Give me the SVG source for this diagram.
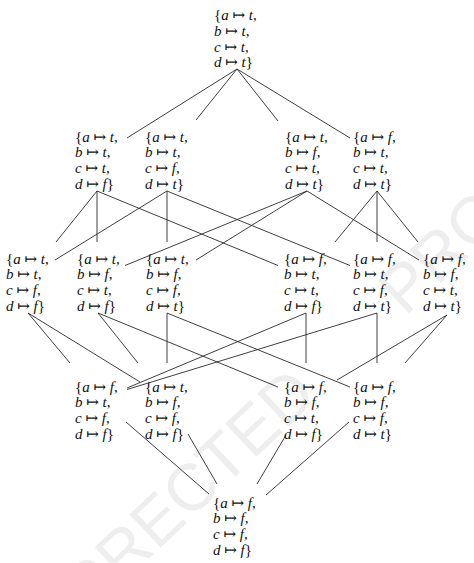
<svg xmlns="http://www.w3.org/2000/svg" width="474" height="563" viewBox="0 0 474 563">
<style>
text{font-family:"Liberation Serif","DejaVu Serif",serif;font-size:15px;fill:#111}
.v{font-style:italic}
.c line{stroke:#2a2a2a;stroke-width:0.9;fill:none}
.wm{font-family:"Liberation Sans","DejaVu Sans",sans-serif;font-size:66px;fill:#eeeeee}
</style>
<rect width="474" height="563" fill="#fff"/>
<g id="watermark">
<g transform="translate(122,584) rotate(-43.4)">
<text class="wm" text-anchor="end">UNCOR</text>
<text class="wm">RECTED</text>
</g>
<text class="wm" transform="translate(405,317) rotate(-43.4)">PROOF</text>
</g>
<g id="connectors" class="c">
<line x1="237" y1="69" x2="127" y2="138"/>
<line x1="237" y1="69" x2="196" y2="120"/>
<line x1="237" y1="69" x2="278" y2="121"/>
<line x1="237" y1="69" x2="350" y2="138"/>
<line x1="97" y1="191" x2="56" y2="242"/>
<line x1="97" y1="191" x2="97" y2="242"/>
<line x1="97" y1="191" x2="278" y2="265.5"/>
<line x1="167" y1="191" x2="55" y2="260"/>
<line x1="167" y1="191" x2="167" y2="242"/>
<line x1="167" y1="191" x2="350" y2="265.5"/>
<line x1="307" y1="191" x2="125" y2="265.5"/>
<line x1="307" y1="191" x2="196" y2="260"/>
<line x1="307" y1="191" x2="419" y2="260"/>
<line x1="377" y1="191" x2="335" y2="242"/>
<line x1="377" y1="191" x2="377" y2="242"/>
<line x1="377" y1="191" x2="418" y2="242"/>
<line x1="28" y1="313" x2="70" y2="363"/>
<line x1="28" y1="313" x2="140" y2="382"/>
<line x1="98" y1="313" x2="138" y2="363"/>
<line x1="98" y1="313" x2="278" y2="387"/>
<line x1="167" y1="313" x2="167" y2="363"/>
<line x1="167" y1="313" x2="350" y2="387"/>
<line x1="306" y1="313" x2="127" y2="388"/>
<line x1="306" y1="313" x2="306" y2="363"/>
<line x1="377" y1="313" x2="127" y2="389.5"/>
<line x1="377" y1="313" x2="377" y2="363"/>
<line x1="447" y1="315" x2="405" y2="363"/>
<line x1="447" y1="315" x2="337" y2="380"/>
<line x1="126" y1="422" x2="209" y2="494"/>
<line x1="188" y1="434" x2="217" y2="484"/>
<line x1="286" y1="435" x2="257" y2="484"/>
<line x1="349" y1="422" x2="266" y2="495"/>
</g>
<g id="n_tttt"><text><tspan x="214" y="20">{<tspan class="v">a</tspan> ↦ <tspan class="v">t</tspan>,</tspan><tspan x="214" y="35.8"><tspan class="v">b</tspan> ↦ <tspan class="v">t</tspan>,</tspan><tspan x="214" y="51.6"><tspan class="v">c</tspan> ↦ <tspan class="v">t</tspan>,</tspan><tspan x="214" y="67.4"><tspan class="v">d</tspan> ↦ <tspan class="v">t</tspan>}</tspan></text></g>
<g id="n_tttf"><text><tspan x="75" y="141.5">{<tspan class="v">a</tspan> ↦ <tspan class="v">t</tspan>,</tspan><tspan x="75" y="157.3"><tspan class="v">b</tspan> ↦ <tspan class="v">t</tspan>,</tspan><tspan x="75" y="173.1"><tspan class="v">c</tspan> ↦ <tspan class="v">t</tspan>,</tspan><tspan x="75" y="188.9"><tspan class="v">d</tspan> ↦ <tspan class="v">f</tspan>}</tspan></text></g>
<g id="n_ttft"><text><tspan x="145" y="141.5">{<tspan class="v">a</tspan> ↦ <tspan class="v">t</tspan>,</tspan><tspan x="145" y="157.3"><tspan class="v">b</tspan> ↦ <tspan class="v">t</tspan>,</tspan><tspan x="145" y="173.1"><tspan class="v">c</tspan> ↦ <tspan class="v">f</tspan>,</tspan><tspan x="145" y="188.9"><tspan class="v">d</tspan> ↦ <tspan class="v">t</tspan>}</tspan></text></g>
<g id="n_tftt"><text><tspan x="285" y="141.5">{<tspan class="v">a</tspan> ↦ <tspan class="v">t</tspan>,</tspan><tspan x="285" y="157.3"><tspan class="v">b</tspan> ↦ <tspan class="v">f</tspan>,</tspan><tspan x="285" y="173.1"><tspan class="v">c</tspan> ↦ <tspan class="v">t</tspan>,</tspan><tspan x="285" y="188.9"><tspan class="v">d</tspan> ↦ <tspan class="v">t</tspan>}</tspan></text></g>
<g id="n_fttt"><text><tspan x="353" y="141.5">{<tspan class="v">a</tspan> ↦ <tspan class="v">f</tspan>,</tspan><tspan x="353" y="157.3"><tspan class="v">b</tspan> ↦ <tspan class="v">t</tspan>,</tspan><tspan x="353" y="173.1"><tspan class="v">c</tspan> ↦ <tspan class="v">t</tspan>,</tspan><tspan x="353" y="188.9"><tspan class="v">d</tspan> ↦ <tspan class="v">t</tspan>}</tspan></text></g>
<g id="n_ttff"><text><tspan x="6" y="263.5">{<tspan class="v">a</tspan> ↦ <tspan class="v">t</tspan>,</tspan><tspan x="6" y="279.3"><tspan class="v">b</tspan> ↦ <tspan class="v">t</tspan>,</tspan><tspan x="6" y="295.1"><tspan class="v">c</tspan> ↦ <tspan class="v">f</tspan>,</tspan><tspan x="6" y="310.9"><tspan class="v">d</tspan> ↦ <tspan class="v">f</tspan>}</tspan></text></g>
<g id="n_tftf"><text><tspan x="77" y="263.5">{<tspan class="v">a</tspan> ↦ <tspan class="v">t</tspan>,</tspan><tspan x="77" y="279.3"><tspan class="v">b</tspan> ↦ <tspan class="v">f</tspan>,</tspan><tspan x="77" y="295.1"><tspan class="v">c</tspan> ↦ <tspan class="v">t</tspan>,</tspan><tspan x="77" y="310.9"><tspan class="v">d</tspan> ↦ <tspan class="v">f</tspan>}</tspan></text></g>
<g id="n_tfft"><text><tspan x="146" y="263.5">{<tspan class="v">a</tspan> ↦ <tspan class="v">t</tspan>,</tspan><tspan x="146" y="279.3"><tspan class="v">b</tspan> ↦ <tspan class="v">f</tspan>,</tspan><tspan x="146" y="295.1"><tspan class="v">c</tspan> ↦ <tspan class="v">f</tspan>,</tspan><tspan x="146" y="310.9"><tspan class="v">d</tspan> ↦ <tspan class="v">t</tspan>}</tspan></text></g>
<g id="n_fttf"><text><tspan x="284" y="263.5">{<tspan class="v">a</tspan> ↦ <tspan class="v">f</tspan>,</tspan><tspan x="284" y="279.3"><tspan class="v">b</tspan> ↦ <tspan class="v">t</tspan>,</tspan><tspan x="284" y="295.1"><tspan class="v">c</tspan> ↦ <tspan class="v">t</tspan>,</tspan><tspan x="284" y="310.9"><tspan class="v">d</tspan> ↦ <tspan class="v">f</tspan>}</tspan></text></g>
<g id="n_ftft"><text><tspan x="353" y="263.5">{<tspan class="v">a</tspan> ↦ <tspan class="v">f</tspan>,</tspan><tspan x="353" y="279.3"><tspan class="v">b</tspan> ↦ <tspan class="v">t</tspan>,</tspan><tspan x="353" y="295.1"><tspan class="v">c</tspan> ↦ <tspan class="v">f</tspan>,</tspan><tspan x="353" y="310.9"><tspan class="v">d</tspan> ↦ <tspan class="v">t</tspan>}</tspan></text></g>
<g id="n_fftt"><text><tspan x="423" y="263.5">{<tspan class="v">a</tspan> ↦ <tspan class="v">f</tspan>,</tspan><tspan x="423" y="279.3"><tspan class="v">b</tspan> ↦ <tspan class="v">f</tspan>,</tspan><tspan x="423" y="295.1"><tspan class="v">c</tspan> ↦ <tspan class="v">t</tspan>,</tspan><tspan x="423" y="310.9"><tspan class="v">d</tspan> ↦ <tspan class="v">t</tspan>}</tspan></text></g>
<g id="n_ftff"><text><tspan x="75" y="391.5">{<tspan class="v">a</tspan> ↦ <tspan class="v">f</tspan>,</tspan><tspan x="75" y="407.3"><tspan class="v">b</tspan> ↦ <tspan class="v">t</tspan>,</tspan><tspan x="75" y="423.1"><tspan class="v">c</tspan> ↦ <tspan class="v">f</tspan>,</tspan><tspan x="75" y="438.9"><tspan class="v">d</tspan> ↦ <tspan class="v">f</tspan>}</tspan></text></g>
<g id="n_tfff"><text><tspan x="145" y="391.5">{<tspan class="v">a</tspan> ↦ <tspan class="v">t</tspan>,</tspan><tspan x="145" y="407.3"><tspan class="v">b</tspan> ↦ <tspan class="v">f</tspan>,</tspan><tspan x="145" y="423.1"><tspan class="v">c</tspan> ↦ <tspan class="v">f</tspan>,</tspan><tspan x="145" y="438.9"><tspan class="v">d</tspan> ↦ <tspan class="v">f</tspan>}</tspan></text></g>
<g id="n_fftf"><text><tspan x="284" y="391.5">{<tspan class="v">a</tspan> ↦ <tspan class="v">f</tspan>,</tspan><tspan x="284" y="407.3"><tspan class="v">b</tspan> ↦ <tspan class="v">f</tspan>,</tspan><tspan x="284" y="423.1"><tspan class="v">c</tspan> ↦ <tspan class="v">t</tspan>,</tspan><tspan x="284" y="438.9"><tspan class="v">d</tspan> ↦ <tspan class="v">f</tspan>}</tspan></text></g>
<g id="n_ffft"><text><tspan x="353" y="391.5">{<tspan class="v">a</tspan> ↦ <tspan class="v">f</tspan>,</tspan><tspan x="353" y="407.3"><tspan class="v">b</tspan> ↦ <tspan class="v">f</tspan>,</tspan><tspan x="353" y="423.1"><tspan class="v">c</tspan> ↦ <tspan class="v">f</tspan>,</tspan><tspan x="353" y="438.9"><tspan class="v">d</tspan> ↦ <tspan class="v">t</tspan>}</tspan></text></g>
<g id="n_ffff"><text><tspan x="213" y="507.5">{<tspan class="v">a</tspan> ↦ <tspan class="v">f</tspan>,</tspan><tspan x="213" y="523.3"><tspan class="v">b</tspan> ↦ <tspan class="v">f</tspan>,</tspan><tspan x="213" y="539.1"><tspan class="v">c</tspan> ↦ <tspan class="v">f</tspan>,</tspan><tspan x="213" y="554.9"><tspan class="v">d</tspan> ↦ <tspan class="v">f</tspan>}</tspan></text></g>
</svg>
